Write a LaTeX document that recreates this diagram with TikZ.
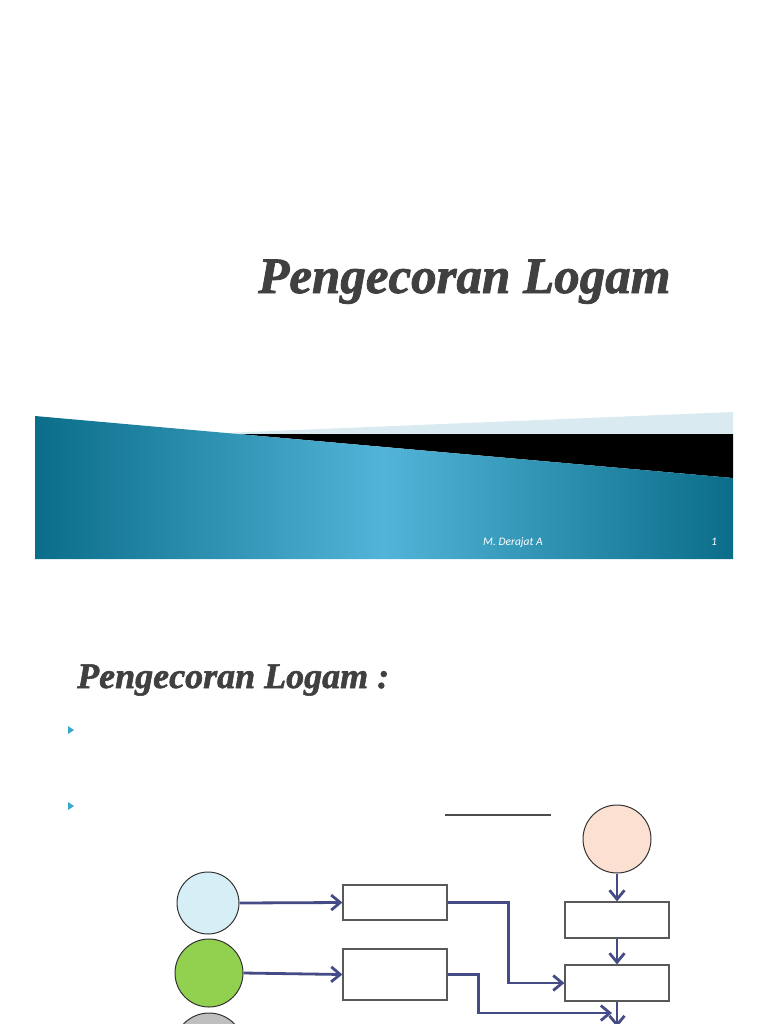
\documentclass[tikz,border=0pt]{standalone}
\usepackage{fontspec}
\setmainfont{Liberation Serif}
\newfontfamily\headfont{Liberation Serif Bold Italic}[FakeBold=1.6]
\newfontfamily\footfont{Carlito}
\usetikzlibrary{arrows.meta}
\definecolor{tealdark}{HTML}{0A6D89}
\definecolor{teallight}{HTML}{52B4D8}
\definecolor{paleblue}{HTML}{D9EAF1}
\definecolor{titlegray}{HTML}{404040}
\definecolor{bulletblue}{HTML}{3AA8CB}
\definecolor{flowblue}{HTML}{454C85}
\definecolor{peach}{HTML}{FCE0D2}
\definecolor{skyfill}{HTML}{D6EEF6}
\definecolor{leaf}{HTML}{92D050}
\definecolor{stone}{HTML}{BFBFBF}
\tikzset{
  blob/.style={circle, draw=black!80, line width=1pt, inner sep=0pt},
  procbox/.style={rectangle, draw=black!65, line width=1.2pt, fill=white, minimum width=104pt, inner sep=0pt},
  flow/.style={draw=flowblue, line width=2.8pt, -{Straight Barb[length=9pt,width=15pt]}},
  heading/.style={anchor=base west, text=titlegray, inner sep=0pt},
}

\begin{document}
\begin{tikzpicture}[x=1pt,y=-1pt]
			\useasboundingbox (0,0) rectangle (768,1024);

			\fill[paleblue] (200,434) -- (733,412) -- (733,434) -- cycle;
			\fill[black] (238,434) -- (733,434) -- (733,478) -- cycle;
			\shade[left color=tealdark, right color=tealdark, middle color=teallight] (35,416) -- (733,478) -- (733,559) -- (35,559) -- cycle;

			\node[heading, font=\headfont\fontsize{51}{60}\selectfont] (title) at (258,293) {Pengecoran Logam};
			\node[anchor=base west, inner sep=0pt, text=white, font=\footfont\itshape\fontsize{11.5}{13}\selectfont] (author) at (483,545) {M. Derajat A};
			\node[anchor=base west, inner sep=0pt, text=white, font=\footfont\itshape\fontsize{11.5}{13}\selectfont] (page) at (711,545) {1};

			\node[heading, font=\headfont\fontsize{36}{42}\selectfont] (subtitle) at (77,688) {Pengecoran Logam :};

			\foreach \y in {730,806}
				\fill[bulletblue] (68,\y-4) -- (74,\y) -- (68,\y+4) -- cycle;
			\draw[black!70, line width=1.2pt] (445,815) -- (551,815);

			\node[blob, fill=peach, minimum size=68pt] (circA) at (617,839) {};
			\node[blob, fill=skyfill, minimum size=62pt] (circB) at (208,903) {};
			\node[blob, fill=leaf, minimum size=68pt] (circC) at (209,973) {};
			\node[blob, fill=stone, minimum size=70pt] (circD) at (209,1048) {};

			\node[procbox, minimum height=35pt] (boxA) at (395,902.5) {};
			\node[procbox, minimum height=51pt] (boxB) at (395,974.5) {};
			\node[procbox, minimum height=36pt] (boxC) at (617,920) {};
			\node[procbox, minimum height=36pt] (boxD) at (617,983) {};

			\coordinate (tipD) at (612,1013);
			\coordinate (outD) at (617,1027);

			\draw[flow] (circB.east) -- (boxA.west);
			\draw[flow] (circC.east) -- (boxB.west);
			\draw[flow] (circA) -- (boxC);
			\draw[flow] (boxC) -- (boxD);
			\draw[flow] (boxA.east) -- ++(61,0) |- (boxD.west);
			\draw[flow] (boxB.east) -- ++(31,0) |- (tipD);
			\draw[flow] (boxD) -- (outD);
		\end{tikzpicture}
\end{document}
